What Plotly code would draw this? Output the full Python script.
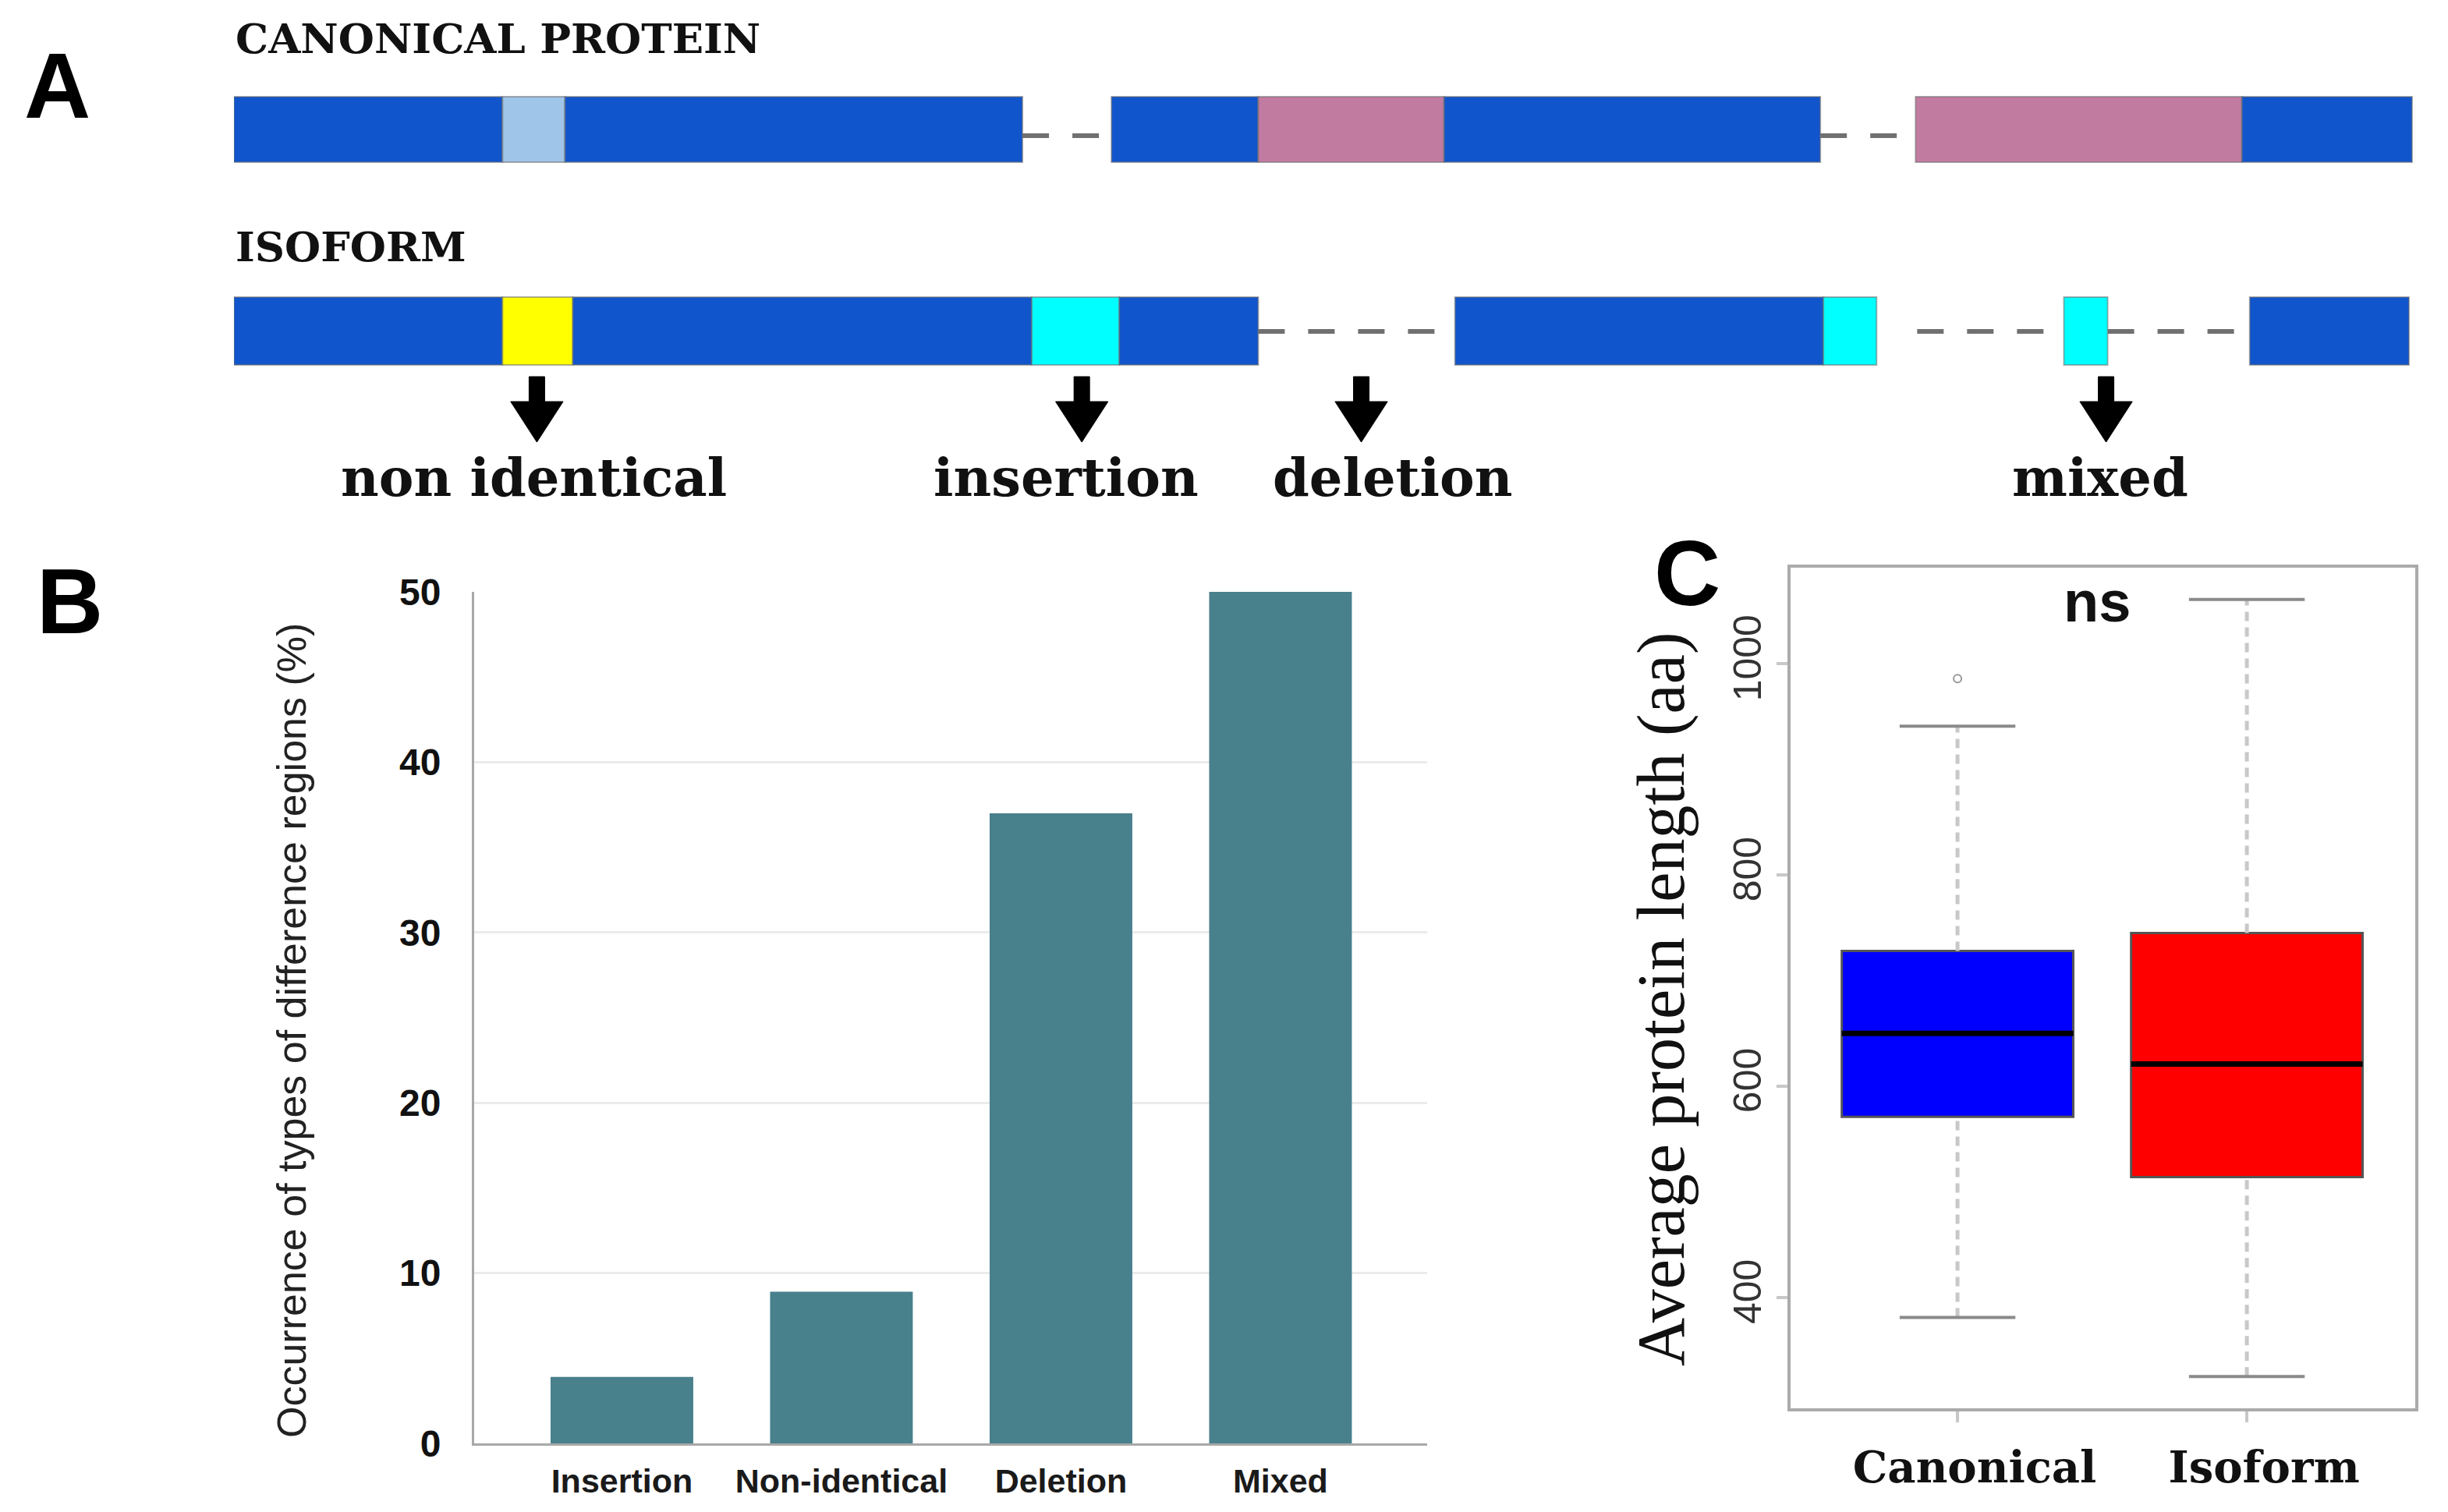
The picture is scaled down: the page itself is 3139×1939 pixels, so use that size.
import plotly.graph_objects as go

W, H = 3139, 1939

# ---------------- DATA ----------------
# Panel A: schematic blocks (positions in residue-like units, 0..1400)
canon_start = [0, 172, 212, 562, 656, 775, 1077, 1286]
canon_end   = [172, 212, 505, 656, 775, 1016, 1286, 1395]
canon_kind  = ["same", "nonid_ref", "same", "same", "ref_region", "same", "ref_region", "same"]
canon_gap_start = [505, 1016]
canon_gap_end   = [562, 1077]

iso_start = [0, 172, 217, 511, 567, 782, 1018, 1172, 1291]
iso_end   = [172, 217, 511, 567, 656, 1018, 1052, 1200, 1393]
iso_kind  = ["same", "nonid", "same", "insert", "same", "same", "insert", "insert", "same"]
iso_gap_start = [656, 1078, 1200]
iso_gap_end   = [782, 1172, 1291]

arrow_pos = [194, 543, 722, 1199]
event_labels = ["non identical", "insertion", "deletion", "mixed"]
event_label_pos = [192, 533, 742, 1195]

# Panel B: occurrence of difference-region types (%)
b_categories = ["Insertion", "Non-identical", "Deletion", "Mixed"]
b_values = [3.9, 8.9, 37.0, 50.0]
b_ticks = [0, 10, 20, 30, 40, 50]

# Panel C: protein length box plot summary
c_groups = ["Canonical", "Isoform"]
c_lower_whisker = [381, 325]
c_q1 = [571, 514]
c_median = [650, 621]
c_q3 = [728, 745]
c_upper_whisker = [941, 1061]
c_outlier_group = [1]
c_outlier_value = [986]
c_ticks = [400, 600, 800, 1000]

# ---------------- STYLE ----------------
kind_color = {
    "same": "#1155CC",
    "nonid_ref": "#9FC5E8",
    "ref_region": "#C27BA0",
    "nonid": "#FFFF00",
    "insert": "#00FFFF",
}
bar_color = "#48808C"
box_fill = ["#0000FF", "#FF0000"]


def px(x):
    return x / W


def py(y):
    return 1 - y / H


fig = go.Figure()

# ---------- Panel B: bars ----------
fig.add_trace(go.Bar(
    x=b_categories, y=b_values, width=0.65,
    marker=dict(color=bar_color, line=dict(width=0)),
    xaxis="x", yaxis="y", showlegend=False,
))

# ---------- Panel C: box plot ----------
xc = [1, 2]
for i in range(2):
    # whisker stems (dashed)
    fig.add_trace(go.Scatter(
        x=[xc[i], xc[i], None, xc[i], xc[i]],
        y=[c_lower_whisker[i], c_q1[i], None, c_q3[i], c_upper_whisker[i]],
        mode="lines", line=dict(color="#C8C8C8", width=5, dash="12px,8px"),
        xaxis="x2", yaxis="y2", showlegend=False, hoverinfo="skip",
    ))
    # caps
    fig.add_trace(go.Scatter(
        x=[xc[i] - 0.2, xc[i] + 0.2, None, xc[i] - 0.2, xc[i] + 0.2],
        y=[c_lower_whisker[i], c_lower_whisker[i], None, c_upper_whisker[i], c_upper_whisker[i]],
        mode="lines", line=dict(color="#8A8A8A", width=4),
        xaxis="x2", yaxis="y2", showlegend=False, hoverinfo="skip",
    ))
    fig.add_trace(go.Box(
        x=[xc[i]], q1=[c_q1[i]], median=[c_median[i]], q3=[c_q3[i]],
        lowerfence=[c_q1[i]], upperfence=[c_q3[i]],
        width=0.8, whiskerwidth=0, fillcolor=box_fill[i],
        line=dict(color="#555555", width=3),
        xaxis="x2", yaxis="y2", showlegend=False, boxpoints=False,
    ))
    fig.add_trace(go.Scatter(
        x=[xc[i] - 0.4, xc[i] + 0.4], y=[c_median[i], c_median[i]],
        mode="lines", line=dict(color="#000000", width=7),
        xaxis="x2", yaxis="y2", showlegend=False, hoverinfo="skip",
    ))
fig.add_trace(go.Scatter(
    x=c_outlier_group, y=c_outlier_value, mode="markers",
    marker=dict(symbol="circle-open", size=10, color="#999999", line=dict(width=2)),
    xaxis="x2", yaxis="y2", showlegend=False,
))

# ---------- Panel A: schematic ----------
shapes = []
canon_top, canon_bot, canon_mid = 124, 208, 174
iso_top, iso_bot, iso_mid = 381, 468, 425


def add_blocks(starts, ends, kinds, y0, y1):
    for s, e, k in zip(starts, ends, kinds):
        shapes.append(dict(
            type="rect", xref="x3", yref="y3", x0=s, x1=e, y0=y0, y1=y1,
            fillcolor=kind_color[k], line=dict(color="rgba(110,110,110,0.55)", width=2),
            layer="above",
        ))


def add_gaps(starts, ends, ym):
    for s, e in zip(starts, ends):
        shapes.append(dict(
            type="line", xref="x3", yref="y3", x0=s, x1=e, y0=ym, y1=ym,
            line=dict(color="#707070", width=6, dash="34px,30px"), layer="above",
        ))


add_gaps(canon_gap_start, canon_gap_end, canon_mid)
add_gaps(iso_gap_start, iso_gap_end, iso_mid)
add_blocks(canon_start, canon_end, canon_kind, canon_top, canon_bot)
add_blocks(iso_start, iso_end, iso_kind, iso_top, iso_bot)

shaft_top, head_top, tip = 483, 515, 567
shaft_hw, head_hw = 5, 16.8
for a in arrow_pos:
    path = (f"M {a-shaft_hw},{shaft_top} L {a+shaft_hw},{shaft_top} L {a+shaft_hw},{head_top} "
            f"L {a+head_hw},{head_top} L {a},{tip} L {a-head_hw},{head_top} "
            f"L {a-shaft_hw},{head_top} Z")
    shapes.append(dict(type="path", xref="x3", yref="y3", path=path,
                       fillcolor="#000000", line=dict(color="#000000", width=1)))

annotations = []
serif_b = "DejaVu Serif"
for lab, xpos in zip(event_labels, event_label_pos):
    annotations.append(dict(
        x=xpos, y=612, xref="x3", yref="y3", text=f"<b>{lab}</b>", showarrow=False,
        font=dict(family=serif_b, size=67, color="#111111"), xanchor="center", yanchor="middle",
    ))
annotations.append(dict(x=0, y=49, xref="x3", yref="y3", text="<b>CANONICAL PROTEIN</b>",
                        showarrow=False, xanchor="left", yanchor="middle",
                        font=dict(family=serif_b, size=53, color="#111111")))
annotations.append(dict(x=0, y=316, xref="x3", yref="y3", text="<b>ISOFORM</b>",
                        showarrow=False, xanchor="left", yanchor="middle",
                        font=dict(family=serif_b, size=53, color="#111111")))

# panel letters
for letter, lx, ly in [("A", 73, 110), ("B", 89, 771), ("C", 2163, 735)]:
    annotations.append(dict(x=px(lx), y=py(ly), xref="paper", yref="paper",
                            text=f"<b>{letter}</b>", showarrow=False,
                            xanchor="center", yanchor="middle",
                            font=dict(family="Liberation Sans", size=118, color="#000000")))

# Panel B y title
annotations.append(dict(x=px(374), y=py(1322), xref="paper", yref="paper",
                        text="Occurrence of types of difference regions (%)",
                        textangle=-90, showarrow=False, xanchor="center", yanchor="middle",
                        font=dict(family="Liberation Sans", size=52, color="#222222")))
# Panel C y title
annotations.append(dict(x=px(2130), y=py(1281), xref="paper", yref="paper",
                        text="Average protein length (aa)",
                        textangle=-90, showarrow=False, xanchor="center", yanchor="middle",
                        font=dict(family="Liberation Serif", size=86, color="#111111")))
# ns
annotations.append(dict(x=px(2689), y=py(772), xref="paper", yref="paper",
                        text="<b>ns</b>", showarrow=False, xanchor="center", yanchor="middle",
                        font=dict(family="Liberation Sans", size=74, color="#111111")))

fig.update_layout(
    width=W, height=H, autosize=False,
    margin=dict(l=0, r=0, t=0, b=0, pad=0),
    paper_bgcolor="white", plot_bgcolor="rgba(0,0,0,0)",
    showlegend=False,
    shapes=shapes, annotations=annotations,
    xaxis=dict(
        domain=[px(608), px(1830)], range=[-0.673, 3.668], automargin=False,
        showgrid=False, zeroline=False, showline=True, linecolor="#A8A8A8", linewidth=3,
        ticks="outside", ticklen=8, tickcolor="rgba(0,0,0,0)",
        tickfont=dict(family="Liberation Sans", size=43, color="#1a1a1a", weight="bold"),
        fixedrange=True,
    ),
    yaxis=dict(
        domain=[py(1851), py(759)], range=[0, 50], tickvals=b_ticks, automargin=False,
        showgrid=True, gridcolor="#EBEBEB", gridwidth=3,
        zeroline=False, showline=True, linecolor="#A8A8A8", linewidth=3,
        ticks="outside", ticklen=30, tickcolor="rgba(0,0,0,0)",
        tickfont=dict(family="Liberation Sans", size=48, color="#111111", weight="bold"),
        fixedrange=True,
    ),
    xaxis2=dict(
        domain=[px(2296), px(3097)], range=[0.423, 2.582], automargin=False,
        tickvals=xc, ticktext=c_groups, ticklabelshift=22, ticklabelstandoff=10,
        showgrid=False, zeroline=False, showline=True, mirror=True,
        linecolor="#ABABAB", linewidth=4,
        ticks="outside", ticklen=14, tickwidth=4, tickcolor="#C8C8C8",
        tickfont=dict(family=serif_b, size=56, color="#111111", weight="bold"),
        anchor="y2", fixedrange=True,
    ),
    yaxis2=dict(
        domain=[py(1806), py(728)], range=[295, 1091], tickvals=c_ticks, automargin=False,
        tickangle=-90,
        showgrid=False, zeroline=False, showline=True, mirror=True,
        linecolor="#ABABAB", linewidth=4,
        ticks="outside", ticklen=14, tickwidth=4, tickcolor="#C8C8C8",
        tickfont=dict(family="Liberation Sans", size=50, color="#333333"),
        anchor="x2", fixedrange=True,
    ),
    xaxis3=dict(domain=[px(300), px(3103)], range=[0, 1400], visible=False,
                anchor="y3", fixedrange=True, automargin=False),
    yaxis3=dict(domain=[0, 1], range=[H, 0], visible=False, anchor="x3",
                fixedrange=True, automargin=False),
)

fig.write_html("out.html", config={"displayModeBar": False},
               post_script="document.body.style.margin='0';")
